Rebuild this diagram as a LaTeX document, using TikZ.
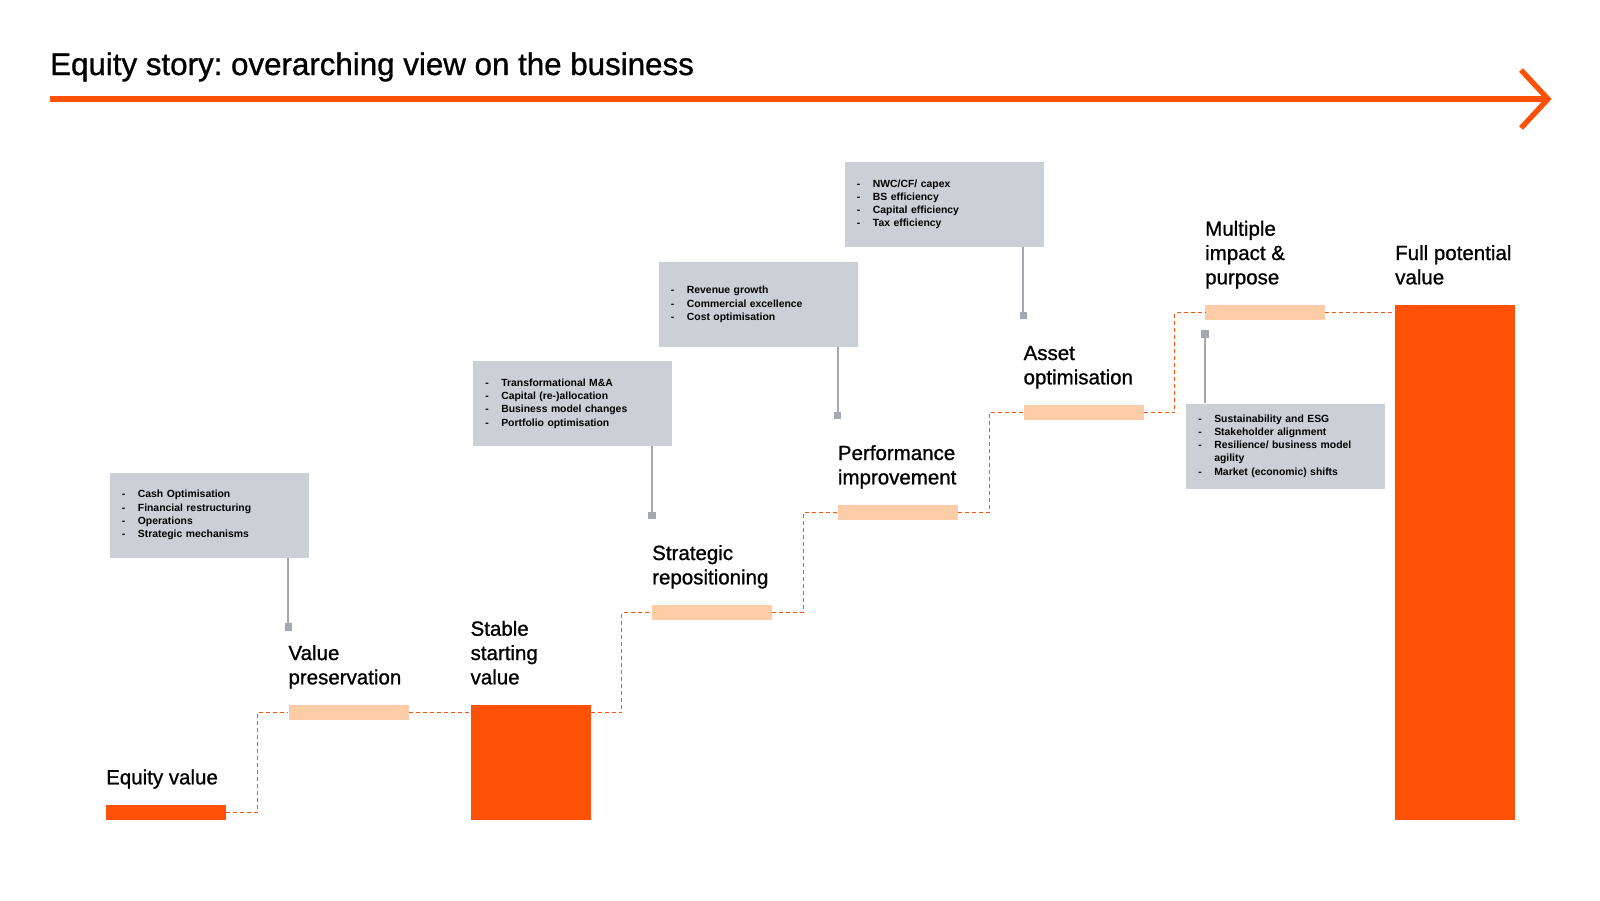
\documentclass[tikz,border=0pt]{standalone}
\usepackage{fontspec}
\setmainfont{Liberation Sans}
\newfontfamily\medfont[FakeBold=1.0]{Liberation Sans}
\usetikzlibrary{positioning,calc}
\definecolor{pwcorange}{RGB}{253,81,8}
\definecolor{pwcpeach}{RGB}{255,204,168}
\definecolor{boxgrey}{RGB}{203,208,214}
\definecolor{pingrey}{RGB}{163,168,179}
\newcommand{\boxitem}{\makebox[16pt][l]{-}}

\begin{document}
\frenchspacing
\begin{tikzpicture}[x=1pt,y=-1pt,
    timeline/.style={draw=pwcorange,line width=5.3pt},
    valuebar/.style={fill=pwcorange,inner sep=0pt,minimum width=120pt,minimum height=15pt,anchor=north west},
    stepbar/.style={valuebar,fill=pwcpeach},
    steplabel/.style={anchor=base west,inner sep=0pt,align=left,font=\medfont\fontsize{20.5}{24.3}\selectfont},
    infobox/.style={fill=boxgrey,anchor=north west,text width=174.5pt,inner xsep=12.4pt,inner ysep=0pt,
                    minimum height=85pt,align=left,font=\fontsize{10.4}{13.2}\selectfont\bfseries},
    pindot/.style={fill=pingrey,inner sep=0pt,minimum size=7.5pt},
    pinline/.style={draw=pingrey,line width=2pt},
    stepline/.style={draw=pwcorange,line width=1.2pt,dash pattern=on 4pt off 3pt}]
\useasboundingbox (0,0) rectangle (1600,900);

\node[anchor=base west,inner sep=0pt,font=\medfont\fontsize{31.3}{36}\selectfont] (title) at (50,75)
    {Equity story: overarching view on the business};
\coordinate (lineL) at (50,99);
\coordinate (lineR) at (1548,99);
\draw[timeline] (lineL) -- (lineR);
\draw[timeline,line join=miter] ([shift={(-27,-29)}]lineR) -- (lineR) -- ([shift={(-27,29)}]lineR);

% bars
\node[valuebar] (eqbar) at (106,805) {};
\node[stepbar] (vpbar) at (288.3,705) {};
\node[valuebar,minimum height=115pt] (stable) at (470.4,705) {};
\node[stepbar] (srbar) at (652,605) {};
\node[stepbar] (pibar) at (837.7,505) {};
\node[stepbar] (aobar) at (1023.4,405) {};
\node[stepbar] (mibar) at (1205,305) {};
\node[valuebar,minimum height=515pt] (fpv) at (1395,305) {};

% labels
\node[steplabel] (eqlbl) at ([yshift=20.7pt]eqbar.north west) {Equity value};
\node[steplabel] (vplbl) at ([yshift=20.7pt]vpbar.north west) {Value\\preservation};
\node[steplabel] (stlbl) at ([yshift=20.7pt]stable.north west) {Stable\\starting\\value};
\node[steplabel] (srlbl) at ([yshift=20.7pt]srbar.north west) {Strategic\\repositioning};
\node[steplabel] (pilbl) at ([yshift=20.7pt]pibar.north west) {Performance\\improvement};
\node[steplabel] (aolbl) at ([yshift=20.7pt]aobar.north west) {Asset\\optimisation};
\node[steplabel] (milbl) at ([yshift=20.7pt]mibar.north west) {Multiple\\impact \&\\purpose};
\node[steplabel] (fpvlbl) at ([yshift=20.7pt]fpv.north west) {Full potential\\value};

% levers
\node[infobox] (vpbox) at (109.3,472.3)
    {\boxitem Cash Optimisation\\\boxitem Financial restructuring\\\boxitem Operations\\\boxitem Strategic mechanisms};
\node[infobox] (srbox) at (472.7,361)
    {\boxitem Transformational M\&A\\\boxitem Capital (re-)allocation\\\boxitem Business model changes\\\boxitem Portfolio optimisation};
\node[infobox] (pibox) at (658.3,261.7)
    {\boxitem Revenue growth\\\boxitem Commercial excellence\\\boxitem Cost optimisation};
\node[infobox] (aobox) at (844.3,161.7)
    {\boxitem NWC/CF/ capex\\\boxitem BS efficiency\\\boxitem Capital efficiency\\\boxitem Tax efficiency};
\node[infobox] (mibox) at (1185.7,403.3)
    {\boxitem Sustainability and ESG\\\boxitem Stakeholder alignment\\\boxitem Resilience/ business model\\\hspace*{16pt}agility\\\boxitem Market (economic) shifts};

\node[pindot] (vpdot) at ([yshift=78pt]vpbar.north west) {};
\node[pindot] (srdot) at ([yshift=89.5pt]srbar.north west) {};
\node[pindot] (pidot) at ([yshift=89.5pt]pibar.north west) {};
\node[pindot] (aodot) at ([yshift=89.5pt]aobar.north west) {};
\node[pindot] (midot) at ([yshift=-29pt]mibar.north west) {};

\draw[pinline] (vpbox.south -| vpdot) -- (vpdot);
\draw[pinline] (srbox.south -| srdot) -- (srdot);
\draw[pinline] (pibox.south -| pidot) -- (pidot);
\draw[pinline] (aobox.south -| aodot) -- (aodot);
\draw[pinline] (mibox.north -| midot) -- (midot);

% steps
\draw[stepline] (eqbar.east) -- ++(31,0) |- (vpbar.west);
\draw[stepline] (vpbar.east) -- (vpbar.east -| stable.west);
\draw[stepline] ([yshift=-7.5pt]stable.north east) -- ++(31,0) |- (srbar.west);
\draw[stepline] (srbar.east) -- ++(31,0) |- (pibar.west);
\draw[stepline] (pibar.east) -- ++(31,0) |- (aobar.west);
\draw[stepline] (aobar.east) -- ++(31,0) |- (mibar.west);
\draw[stepline] (mibar.east) -- (mibar.east -| fpv.west);
\end{tikzpicture}
\end{document}
